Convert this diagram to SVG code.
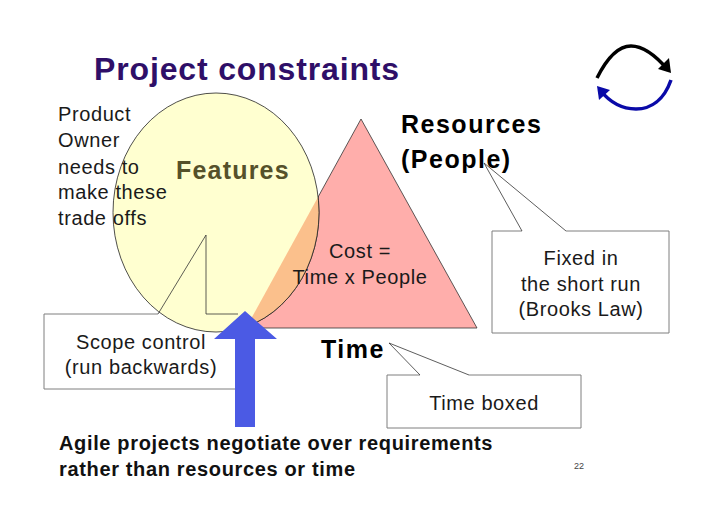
<svg xmlns="http://www.w3.org/2000/svg" width="728" height="514" viewBox="0 0 728 514">
<style>
text{font-family:"Liberation Sans",Arial,sans-serif;fill:#1a1a1a}
.n{font-size:20px;letter-spacing:.6px}
.c{font-size:20px;letter-spacing:.6px;text-anchor:middle}
.b{font-size:25px;font-weight:bold;letter-spacing:1.5px;fill:#000}
.s{font-size:20px;font-weight:bold;letter-spacing:.65px;fill:#111}
.call{fill:none;stroke:#7f7f7f;stroke-width:1}
.ptr{fill:none;stroke:#333;stroke-width:.8}
</style>
<defs>
<clipPath id="tri"><polygon points="361,119 477,328 246,328"/></clipPath>
</defs>
<rect width="728" height="514" fill="#fff"/>
<text x="94" y="80" font-size="32" font-weight="bold" letter-spacing=".85" style="fill:#2f0f68">Project constraints</text>
<g id="triangle"><polygon points="361,119 477,328 246,328" fill="#ffaeab" stroke="#333" stroke-width=".8"/></g>
<g id="features"><ellipse cx="216" cy="212.5" rx="103" ry="119.5" fill="#ffffd0" stroke="#222" stroke-width=".8"/>
<ellipse cx="216" cy="212.5" rx="103" ry="119.5" fill="#fbc08c" stroke="#222" stroke-width=".8" clip-path="url(#tri)"/>
<text x="176" y="179" font-size="25" font-weight="bold" letter-spacing="1.2" style="fill:#55512a">Features</text></g>
<g id="owner-note"><text class="n" x="58" y="121">Product</text><text class="n" x="58" y="147">Owner</text><text class="n" x="58" y="174">needs to</text><text class="n" x="58" y="199">make these</text><text class="n" x="58" y="225">trade offs</text></g>
<g id="cost"><text class="c" x="360" y="258">Cost =</text><text class="c" x="360" y="284">Time x People</text></g>
<g id="resources"><text class="b" x="401" y="133">Resources</text><text class="b" x="401" y="168">(People)</text></g>
<g id="time"><text class="b" x="321" y="358">Time</text></g>
<g id="connectors">
<path class="call" d="M158,314H44V389H238"/>
<path class="ptr" d="M158,314L206,235L206,314H238"/>
<path class="call" d="M522,231H492V333H669V231H566"/>
<path class="ptr" d="M522,231L484,163L566,231"/>
<path class="call" d="M420,375H387V428H581V375H469"/>
<path class="ptr" d="M420,375L389,343L469,375"/>
<polygon points="245,311 277,339 255,339 255,427 235,427 235,339 214,339" fill="#4b5ae4"/>
<path d="M597,78C607,58 618,46 631,46C645,46 657,57 668,70" fill="none" stroke="#000" stroke-width="3.5"/>
<polygon points="671,73 658,69 669,58" fill="#000"/>
<path d="M671,80C664,100 651,109 636,109C620,109 608,100 600,90" fill="none" stroke="#0a0aa8" stroke-width="3.5"/>
<polygon points="597,86 610,90 599,100" fill="#0a0aa8"/>
</g>
<g id="scope"><text class="c" x="141" y="349">Scope control</text><text class="c" x="141" y="374">(run backwards)</text></g>
<g id="fixed"><text class="c" x="581" y="265">Fixed in</text><text class="c" x="581" y="291">the short run</text><text class="c" x="581" y="316">(Brooks Law)</text></g>
<g id="boxed"><text class="c" x="484" y="410">Time boxed</text></g>
<g id="footer"><text class="s" x="59" y="450">Agile projects negotiate over requirements</text><text class="s" x="59" y="476">rather than resources or time</text>
<text x="574" y="469" font-size="9" style="fill:#444">22</text></g>
</svg>
